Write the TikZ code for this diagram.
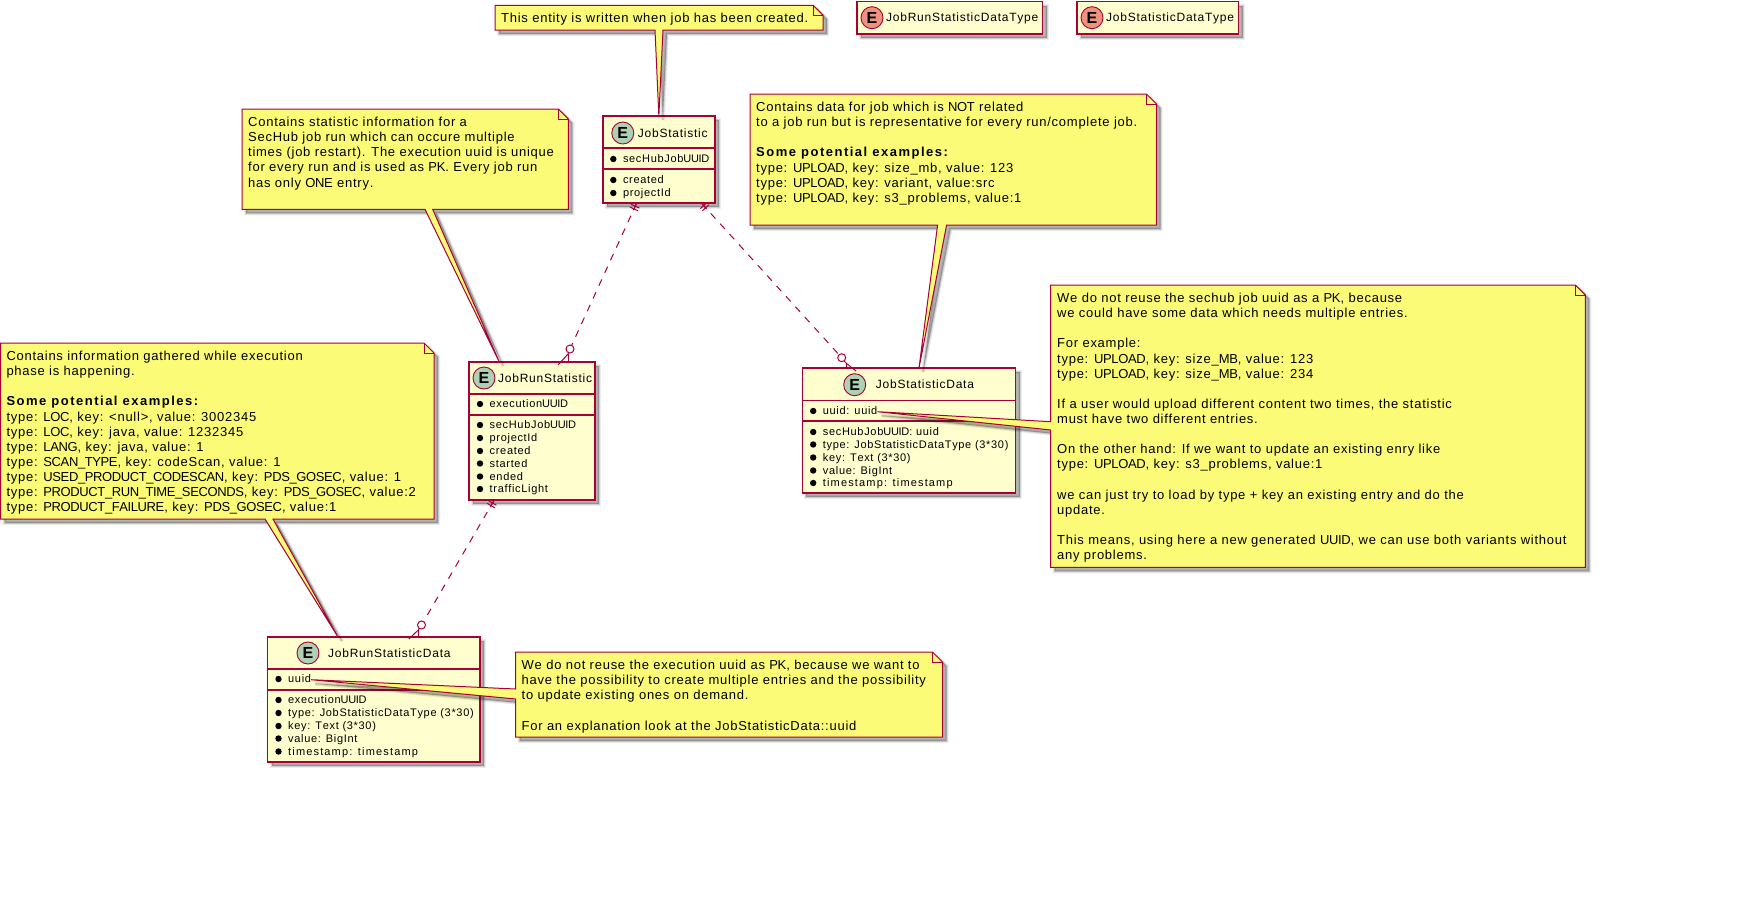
\documentclass[tikz,border=0pt]{standalone}
\usepackage{fontspec}
\usetikzlibrary{calc,shadows}
\newfontfamily\notefam[LetterSpace=5.7,Ligatures=NoCommon,Kerning=Off]{Liberation Sans}
\newfontfamily\notecaps[LetterSpace=-3,Ligatures=NoCommon,Kerning=Off]{Liberation Sans}
\newfontfamily\notebold[LetterSpace=11.5,Ligatures=NoCommon,Kerning=Off]{Liberation Sans Bold}
\newfontfamily\attrfam[LetterSpace=6.2,Ligatures=NoCommon,Kerning=Off]{Liberation Sans}
\newfontfamily\attrcaps[LetterSpace=-3,Ligatures=NoCommon,Kerning=Off]{Liberation Sans}
\newfontfamily\attrwide[LetterSpace=10.5,Ligatures=NoCommon,Kerning=Off]{Liberation Sans}
\newfontfamily\titlefam[LetterSpace=6.3,Ligatures=NoCommon,Kerning=Off]{Liberation Sans}
\newfontfamily\spotfam{Liberation Sans Bold}
\newcommand\uc[1]{{\notecaps #1}}
\newcommand\ua[1]{{\attrcaps #1}}
\definecolor{umlline}{HTML}{A80036}
\definecolor{umlnote}{HTML}{FBFB77}
\definecolor{umlbox}{HTML}{FEFECE}
\definecolor{umlgreen}{HTML}{ADD1B2}
\definecolor{umlred}{HTML}{EB937F}
\tikzset{
  softshadow/.style={
    drop shadow={shadow xshift=4pt,shadow yshift=-4pt,draw=black,line width=4pt,opacity=.07},
    drop shadow={shadow xshift=4pt,shadow yshift=-4pt,draw=black,line width=2pt,opacity=.12},
    drop shadow={shadow xshift=4pt,shadow yshift=-4pt,draw=none,fill=black,opacity=.22}},
  entitybox/.style={draw=umlline,line width=1.5pt,fill=umlbox,anchor=north west,inner sep=0pt,outer sep=0pt,softshadow},
  entitysep/.style={draw=umlline,line width=1.3pt},
  spotgreen/.style={circle,draw=umlline,line width=.9pt,fill=umlgreen,minimum size=22pt,inner sep=0pt,font=\spotfam\fontsize{16}{16}\selectfont},
  spotred/.style={spotgreen,fill=umlred},
  titletext/.style={anchor=west,inner sep=0pt,yshift=-.8pt,text height=9pt,text depth=2.5pt,font=\titlefam\fontsize{12}{14}\selectfont},
  attrtext/.style={anchor=west,inner sep=0pt,text height=8pt,text depth=2pt,font=\attrfam\fontsize{11}{13}\selectfont},
  bulletdot/.style={fill=black},
  notebox/.style={anchor=north west,inner sep=0pt,outer sep=0pt},
  noteshape/.style={draw=umlline,line width=1pt,fill=umlnote,line join=miter,softshadow},
  notefold/.style={draw=umlline,line width=1pt},
  notetext/.style={anchor=north west,inner sep=0pt,align=left,font=\notefam\fontsize{13}{15.13}\selectfont},
  reldash/.style={draw=umlline,line width=1pt,dash pattern=on 7pt off 7pt},
  relmark/.style={draw=umlline,line width=1pt},
  relcircle/.style={circle,draw=umlline,line width=1pt,minimum size=8pt,inner sep=0pt,outer sep=0pt}
}
\newcommand\attrline[4]{\fill[bulletdot] (#1,#2) circle (3.2pt); \node[attrtext] (#3) at (#1+9.5,#2+.7) {#4};}
\newcommand\relbars[2]{%
  \draw[relmark] (#1) -- ($(#1)!8pt!(#2)$);
  \draw[relmark] ($(#1)!3.5pt!(#2)!4.5pt!90:(#2)$) -- ($(#1)!3.5pt!(#2)!4.5pt!-90:(#2)$);
  \draw[relmark] ($(#1)!6.5pt!(#2)!4.5pt!90:(#2)$) -- ($(#1)!6.5pt!(#2)!4.5pt!-90:(#2)$);}
\begin{document}
\begin{tikzpicture}[x=1pt,y=-1pt]
\useasboundingbox (0,0) rectangle (1754,900);
\fill[white] (0,0) rectangle (1754,900);

% ---------- stand-alone entities
\node[entitybox,minimum width=185.5pt,minimum height=32.5pt] (eone) at (857,1.5) {};
\node[spotred] (eonespot) at (872,17.7) {E};
\node[titletext] (eonetitle) at (886,17.7) {JobRunStatisticDataType};
\node[entitybox,minimum width=161.5pt,minimum height=32.5pt] (etwo) at (1077,1.5) {};
\node[spotred] (etwospot) at (1092,17.7) {E};
\node[titletext] (etwotitle) at (1106,17.7) {JobStatisticDataType};

% ---------- JobStatistic
\node[entitybox,minimum width=111.9pt,minimum height=87pt] (js) at (602.9,116) {};
\draw[entitysep] ([yshift=-32pt]js.north west) -- ([yshift=-32pt]js.north east);
\draw[entitysep] ([yshift=-53pt]js.north west) -- ([yshift=-53pt]js.north east);
\node[spotgreen] (jsspot) at (622.8,133) {E};
\node[titletext] (jstitle) at (637.7,133) {JobStatistic};
\attrline{613.3}{159}{jsa}{secHubJob\ua{UUID}}
\attrline{613.3}{180}{jsb}{created}
\attrline{613.3}{193}{jsc}{projectId}

% ---------- JobRunStatistic
\node[entitybox,minimum width=126pt,minimum height=138pt] (jrs) at (469,362) {};
\draw[entitysep] ([yshift=-32pt]jrs.north west) -- ([yshift=-32pt]jrs.north east);
\draw[entitysep] ([yshift=-53pt]jrs.north west) -- ([yshift=-53pt]jrs.north east);
\node[spotgreen] (jrsspot) at (484,378) {E};
\node[titletext] (jrstitle) at (498,378) {JobRunStatistic};
\attrline{480}{404}{jrsa}{execution\ua{UUID}}
\attrline{480}{425}{jrsb}{secHubJob\ua{UUID}}
\attrline{480}{438}{jrsc}{projectId}
\attrline{480}{451}{jrsd}{created}
\attrline{480}{463.5}{jrse}{started}
\attrline{480}{476.5}{jrsf}{ended}
\attrline{480}{489}{jrsg}{trafficLight}

% ---------- JobStatisticData
\node[entitybox,minimum width=213.4pt,minimum height=125pt] (jsd) at (802.3,368) {};
\draw[entitysep] ([yshift=-32.5pt]jsd.north west) -- ([yshift=-32.5pt]jsd.north east);
\draw[entitysep] ([yshift=-53pt]jsd.north west) -- ([yshift=-53pt]jsd.north east);
\node[spotgreen] (jsdspot) at (854.7,384.7) {E};
\node[titletext] (jsdtitle) at (875.7,384.7) {JobStatisticData};
\attrline{813.2}{411}{jsdkey}{uuid: uuid}
\attrline{813.2}{432}{jsdb}{secHubJob\ua{UUID}: uuid}
\attrline{813.2}{444.5}{jsdc}{type: JobStatisticDataType (3*30)}
\attrline{813.2}{457.5}{jsdd}{key: Text (3*30)}
\attrline{813.2}{470.5}{jsde}{value: BigInt}
\attrline{813.2}{483}{jsdf}{\attrwide timestamp: timestamp}

% ---------- JobRunStatisticData
\node[entitybox,minimum width=212.5pt,minimum height=125pt] (jrd) at (267.5,637) {};
\draw[entitysep] ([yshift=-32pt]jrd.north west) -- ([yshift=-32pt]jrd.north east);
\draw[entitysep] ([yshift=-53pt]jrd.north west) -- ([yshift=-53pt]jrd.north east);
\node[spotgreen] (jrdspot) at (308,653) {E};
\node[titletext] (jrdtitle) at (328,653) {JobRunStatisticData};
\attrline{278.5}{679}{jrdkey}{uuid}
\attrline{278.5}{700}{jrdb}{execution\ua{UUID}}
\attrline{278.5}{713}{jrdc}{type: JobStatisticDataType (3*30)}
\attrline{278.5}{726}{jrdd}{key: Text (3*30)}
\attrline{278.5}{738.5}{jrde}{value: BigInt}
\attrline{278.5}{751.5}{jrdf}{\attrwide timestamp: timestamp}

% ---------- relations
\coordinate (relAs) at ([xshift=-22.15pt]js.south);
\node[relcircle] (relAc) at (570,349) {};
\draw[reldash] (relAs) -- (relAc);
\relbars{relAs}{relAc}
\coordinate (relAa) at (568,354);
\draw[relmark] (relAc) -- (relAa) -- ([xshift=-10pt,yshift=-3pt]relAa |- jrs.north);
\draw[relmark] (relAa) -- (relAa |- jrs.north);

\coordinate (relBs) at ([xshift=42.45pt]js.south);
\node[relcircle] (relBc) at (841.7,357.7) {};
\draw[reldash] (relBs) -- (relBc);
\relbars{relBs}{relBc}
\coordinate (relBa) at (846,363);
\draw[relmark] (relBc) -- (relBa) -- ([xshift=10pt,yshift=-3pt]relBa |- jsd.north);
\draw[relmark] (relBa) -- (relBa |- jsd.north);

\coordinate (relCs) at ([xshift=-37.7pt]jrs.south);
\node[relcircle] (relCc) at (421.5,625) {};
\draw[reldash] (relCs) -- (relCc);
\relbars{relCs}{relCc}
\coordinate (relCa) at (418.3,630);
\draw[relmark] (relCc) -- (relCa) -- ([xshift=-9.5pt,yshift=-2pt]relCa |- jrd.north);
\draw[relmark] (relCa) -- (relCa |- jrd.north);

% ---------- notes
\node[notebox,minimum width=328.2pt,minimum height=24.7pt] (nA) at (495,5.3) {};
\draw[noteshape] (nA.north west) -- ([xshift=-10pt]nA.north east) -- ([yshift=-10pt]nA.north east) -- (nA.south east)
  -- ([xshift=168pt]nA.south west) -- (js.north) -- ([xshift=160pt]nA.south west) -- (nA.south west) -- cycle;
\draw[notefold] ([xshift=-10pt]nA.north east) -- ([xshift=-10pt,yshift=-10pt]nA.north east) -- ([yshift=-10pt]nA.north east);
\node[notetext] (nAt) at (501,13.2) {This entity is written when job has been created.};

\node[notebox,minimum width=406.5pt,minimum height=131pt] (nB) at (750,94) {};
\draw[noteshape] (nB.north west) -- ([xshift=-10pt]nB.north east) -- ([yshift=-10pt]nB.north east) -- (nB.south east)
  -- ([xshift=196.6pt]nB.south west) -- ([xshift=10pt]jsd.north) -- ([xshift=187.6pt]nB.south west) -- (nB.south west) -- cycle;
\draw[notefold] ([xshift=-10pt]nB.north east) -- ([xshift=-10pt,yshift=-10pt]nB.north east) -- ([yshift=-10pt]nB.north east);
\node[notetext] (nBt) at (756,101.9) {Contains data for job which is \uc{NOT} related\\
to a job run but is representative for every run/complete job.\\[15.13pt]
{\notebold Some potential examples:}\\
type: \uc{UPLOAD}, key: size\_mb, value: 123\\
type: \uc{UPLOAD}, key: variant, value:src\\
type: \uc{UPLOAD}, key: s3\_problems, value:1};

\node[notebox,minimum width=326.3pt,minimum height=100.3pt] (nC) at (242,109) {};
\draw[noteshape] (nC.north west) -- ([xshift=-10pt]nC.north east) -- ([yshift=-10pt]nC.north east) -- (nC.south east)
  -- ([xshift=190.7pt]nC.south west) -- ([xshift=-32.7pt]jrs.north) -- ([xshift=183pt]nC.south west) -- (nC.south west) -- cycle;
\draw[notefold] ([xshift=-10pt]nC.north east) -- ([xshift=-10pt,yshift=-10pt]nC.north east) -- ([yshift=-10pt]nC.north east);
\node[notetext] (nCt) at (248,116.9) {Contains statistic information for a\\
SecHub job run which can occure multiple\\
times (job restart). The execution uuid is unique\\
for every run and is used as \uc{PK}. Every job run\\
has only \uc{ONE} entry.};

\node[notebox,minimum width=433.5pt,minimum height=176pt] (nD) at (0.5,343) {};
\draw[noteshape] (nD.north west) -- ([xshift=-10pt]nD.north east) -- ([yshift=-10pt]nD.north east) -- (nD.south east)
  -- ([xshift=272.5pt]nD.south west) -- ([xshift=-35.75pt]jrd.north) -- ([xshift=264.5pt]nD.south west) -- (nD.south west) -- cycle;
\draw[notefold] ([xshift=-10pt]nD.north east) -- ([xshift=-10pt,yshift=-10pt]nD.north east) -- ([yshift=-10pt]nD.north east);
\node[notetext] (nDt) at (6.3,350.9) {Contains information gathered while execution\\
phase is happening.\\[15.13pt]
{\notebold Some potential examples:}\\
type: \uc{LOC}, key: <null>, value: 3002345\\
type: \uc{LOC}, key: java, value: 1232345\\
type: \uc{LANG}, key: java, value: 1\\
type: \uc{SCAN\_TYPE}, key: codeScan, value: 1\\
type: \uc{USED\_PRODUCT\_CODESCAN}, key: \uc{PDS\_GOSEC}, value: 1\\
type: \uc{PRODUCT\_RUN\_TIME\_SECONDS}, key: \uc{PDS\_GOSEC}, value:2\\
type: \uc{PRODUCT\_FAILURE}, key: \uc{PDS\_GOSEC}, value:1};

\node[notebox,minimum width=427pt,minimum height=85pt] (nE) at (515.5,652) {};
\draw[noteshape] (nE.north west) -- ([xshift=-10pt]nE.north east) -- ([yshift=-10pt]nE.north east) -- (nE.south east)
  -- (nE.south west) -- ([yshift=-47pt]nE.north west) -- (jrdkey.east) -- ([yshift=-37pt]nE.north west) -- cycle;
\draw[notefold] ([xshift=-10pt]nE.north east) -- ([xshift=-10pt,yshift=-10pt]nE.north east) -- ([yshift=-10pt]nE.north east);
\node[notetext] (nEt) at (521.5,659.9) {We do not reuse the execution uuid as \uc{PK}, because we want to\\
have the possibility to create multiple entries and the possibility\\
to update existing ones on demand.\\[15.13pt]
For an explanation look at the JobStatisticData::uuid};

\node[notebox,minimum width=534.7pt,minimum height=282.3pt] (nF) at (1050.7,285) {};
\draw[noteshape] (nF.north west) -- ([xshift=-10pt]nF.north east) -- ([yshift=-10pt]nF.north east) -- (nF.south east)
  -- (nF.south west) -- ([yshift=-145pt]nF.north west) -- (jsdkey.east) -- ([yshift=-136.7pt]nF.north west) -- cycle;
\draw[notefold] ([xshift=-10pt]nF.north east) -- ([xshift=-10pt,yshift=-10pt]nF.north east) -- ([yshift=-10pt]nF.north east);
\node[notetext] (nFt) at (1057,292.9) {We do not reuse the sechub job uuid as a \uc{PK}, because\\
we could have some data which needs multiple entries.\\[15.13pt]
For example:\\
type: \uc{UPLOAD}, key: size\_\uc{MB}, value: 123\\
type: \uc{UPLOAD}, key: size\_\uc{MB}, value: 234\\[15.13pt]
If a user would upload different content two times, the statistic\\
must have two different entries.\\[15.13pt]
On the other hand: If we want to update an existing enry like\\
type: \uc{UPLOAD}, key: s3\_problems, value:1\\[15.13pt]
we can just try to load by type + key an existing entry and do the\\
update.\\[15.13pt]
This means, using here a new generated \uc{UUID}, we can use both variants without\\
any problems.};
\end{tikzpicture}
\end{document}
